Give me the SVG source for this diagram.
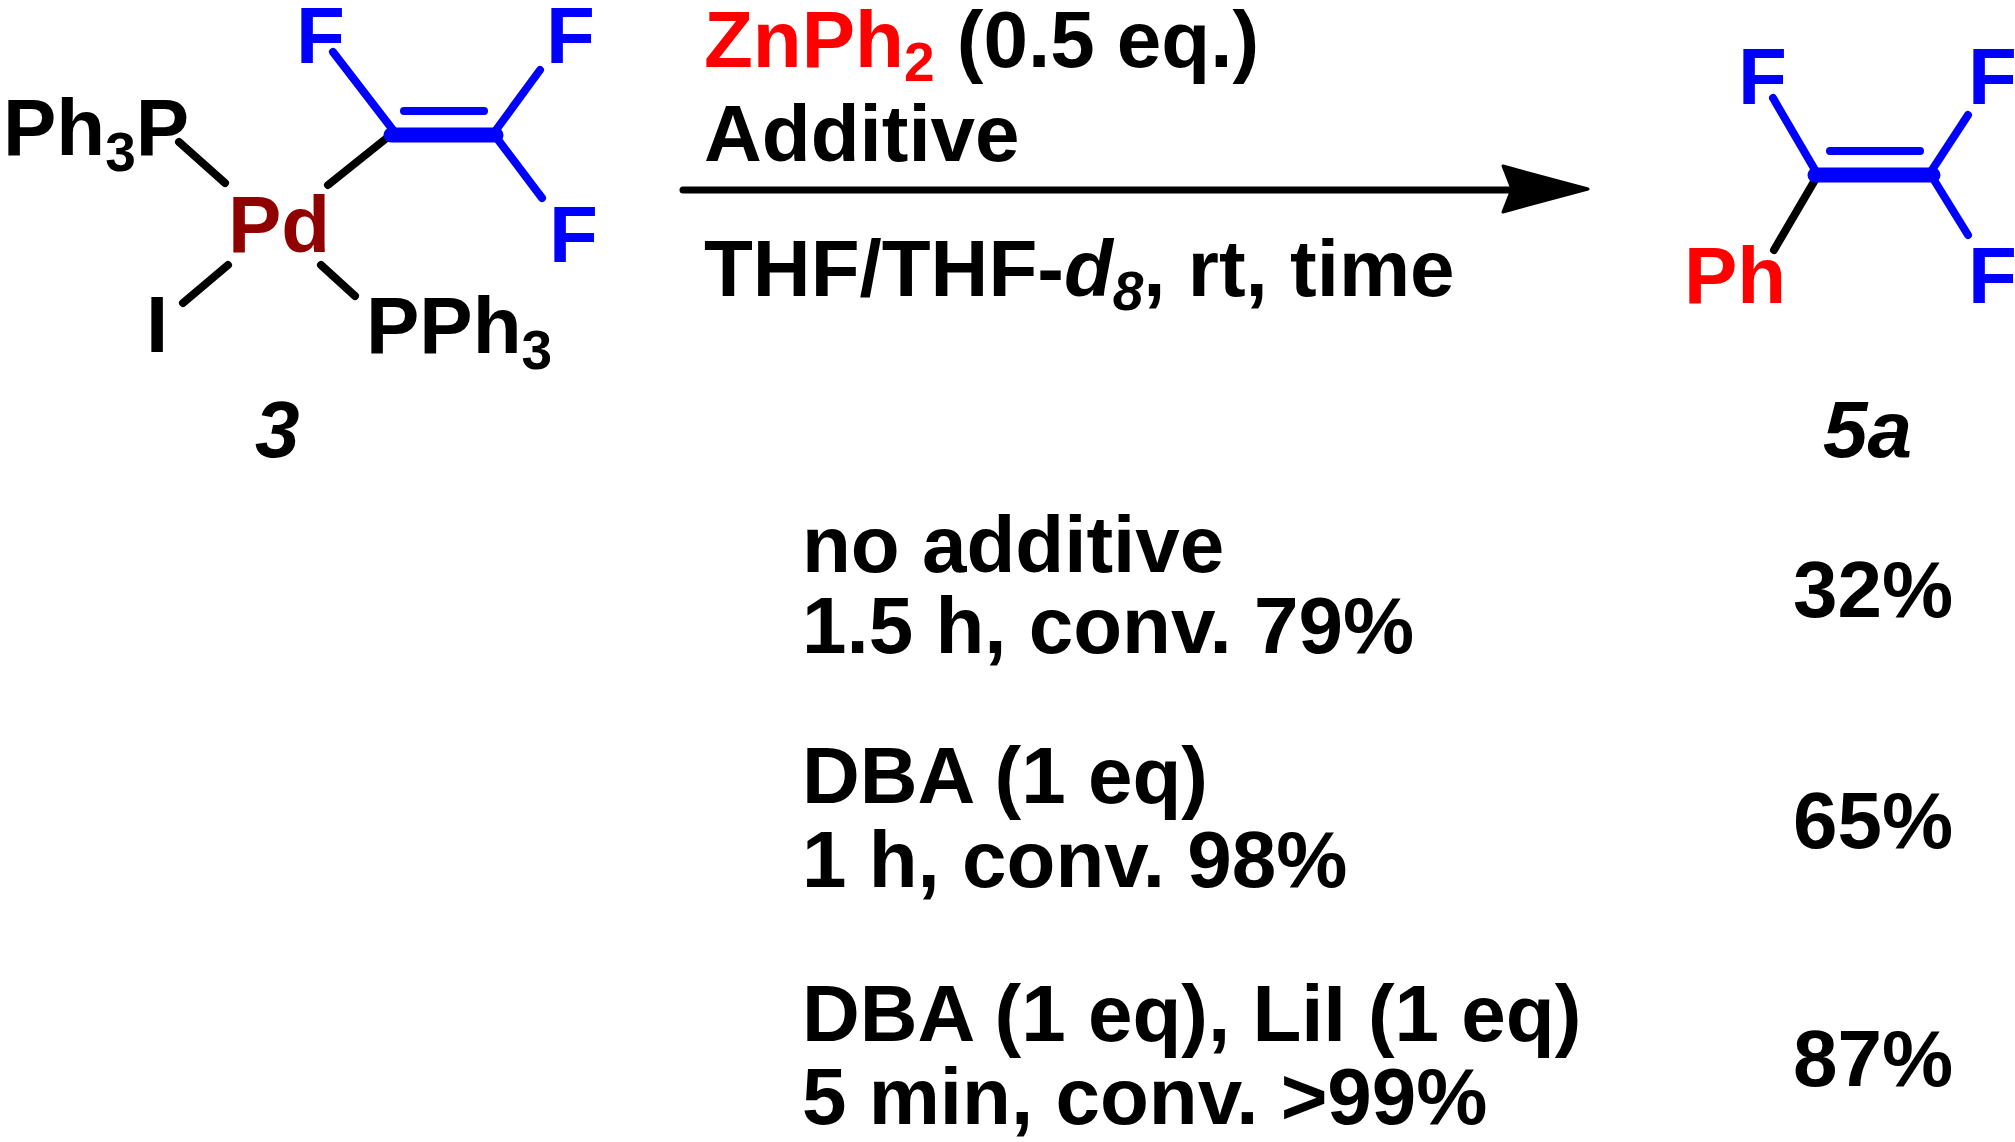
<svg xmlns="http://www.w3.org/2000/svg" width="2015" height="1142" viewBox="0 0 2015 1142">
<style>
text{font-family:"Liberation Sans",Arial,sans-serif;font-weight:bold;font-size:80px;fill:#000}
.b{fill:#0000ff}.r{fill:#ff0000}.pd{fill:#900000}.s{font-size:55px}
line{stroke-linecap:round}
.k{stroke:#000;stroke-width:8}
.bl{stroke:#0000ff;stroke-width:8}
</style>
<rect width="2015" height="1142" fill="#fff"/>
<g id="compound3">
<text x="3" y="155">Ph<tspan class="s" dy="16">3</tspan><tspan dy="-16">P</tspan></text>
<text x="228" y="252" class="pd">Pd</text>
<text x="296" y="63" class="b">F</text>
<text x="546" y="63" class="b">F</text>
<text x="549" y="262" class="b">F</text>
<text x="146" y="352">I</text>
<text x="366" y="353">PPh<tspan class="s" dy="16">3</tspan></text>
<text x="255" y="457" font-style="italic">3</text>
<line class="k" x1="179" y1="142" x2="225" y2="183"/>
<line class="k" x1="328" y1="185" x2="388" y2="137"/>
<line class="k" x1="228" y1="265" x2="183" y2="303"/>
<line class="k" x1="321" y1="265" x2="355" y2="296"/>
<line class="bl" x1="393" y1="130" x2="333" y2="52"/>
<line class="bl" x1="496" y1="130" x2="540" y2="70"/>
<line class="bl" x1="496" y1="137" x2="542" y2="198"/>
<line stroke="#0000ff" stroke-width="15" x1="391" y1="135" x2="496" y2="135"/>
<line class="bl" x1="404" y1="111" x2="484" y2="111"/>
</g>
<g id="conditions">
<text x="704" y="67"><tspan class="r">ZnPh<tspan class="s" dy="14">2</tspan></tspan><tspan dy="-14"> (0.5 eq.)</tspan></text>
<text x="704" y="161">Additive</text>
<text x="704" y="296">THF/THF-<tspan font-style="italic">d</tspan><tspan class="s" font-style="italic" dy="14">8</tspan><tspan dy="-14">, rt, time</tspan></text>
</g>
<g id="connectors">
<line x1="683" y1="190" x2="1540" y2="190" stroke="#000" stroke-width="7" stroke-linecap="butt"/>
<path d="M1588,189 L1503,166 L1512,189 L1503,212 Z" fill="#000" stroke="#000" stroke-width="3" stroke-linejoin="round"/>
</g>
<g id="product5a">
<text x="1738" y="104" class="b">F</text>
<text x="1968" y="104" class="b">F</text>
<text x="1968" y="303" class="b">F</text>
<text x="1684" y="303" class="r">Ph</text>
<text x="1823" y="457" font-style="italic">5a</text>
<line class="bl" x1="1815" y1="170" x2="1773" y2="98"/>
<line class="bl" x1="1932" y1="170" x2="1968" y2="115"/>
<line class="bl" x1="1934" y1="180" x2="1968" y2="235"/>
<line class="k" x1="1815" y1="180" x2="1774" y2="250"/>
<line stroke="#0000ff" stroke-width="15" x1="1815" y1="175" x2="1933" y2="175"/>
<line class="bl" x1="1830" y1="151" x2="1920" y2="151"/>
</g>
<g id="results">
<text x="802" y="572">no additive</text>
<text x="802" y="653">1.5 h, conv. 79%</text>
<text x="1793" y="617">32%</text>
<text x="802" y="803">DBA (1 eq)</text>
<text x="802" y="887">1 h, conv. 98%</text>
<text x="1793" y="848">65%</text>
<text x="802" y="1041">DBA (1 eq), LiI (1 eq)</text>
<text x="802" y="1124">5 min, conv. &gt;99%</text>
<text x="1793" y="1086">87%</text>
</g>
</svg>
